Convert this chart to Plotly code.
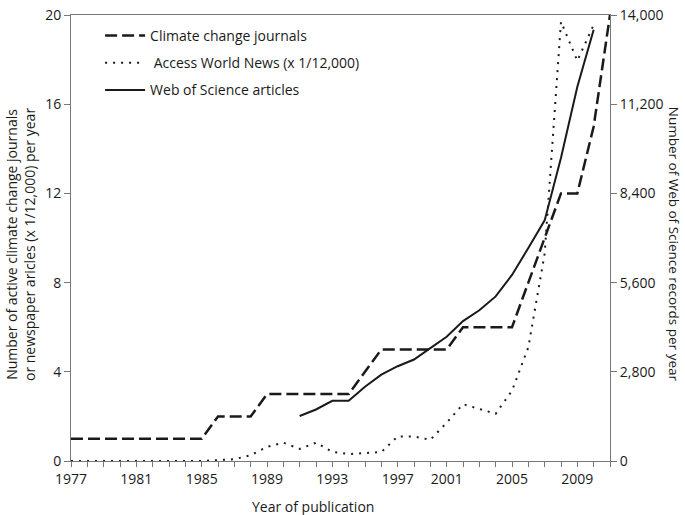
import plotly.graph_objects as go

# ---- data ----
journal_years = [1977, 1978, 1979, 1980, 1981, 1982, 1983, 1984, 1985, 1986, 1987, 1988,
                 1989, 1990, 1991, 1992, 1993, 1994, 1995, 1996, 1997, 1998, 1999, 2000,
                 2001, 2002, 2003, 2004, 2005, 2006, 2007, 2008, 2009, 2010]
journals = [1, 1, 1, 1, 1, 1, 1, 1, 1, 2, 2, 2,
            3, 3, 3, 3, 3, 3, 4, 5, 5, 5, 5, 5,
            6, 6, 6, 6, 8, 10, 12, 12, 15, 20]

news_years = [1977, 1978, 1979, 1980, 1981, 1982, 1983, 1984, 1985, 1986, 1987, 1988,
              1989, 1990, 1991, 1992, 1993, 1994, 1995, 1996, 1997, 1998, 1999, 2000,
              2001, 2002, 2003, 2004, 2005, 2006, 2007, 2008, 2009]
news_scaled = [0, 0, 0, 0, 0, 0, 0, 0, 0, 0.04, 0.08, 0.26,
               0.63, 0.82, 0.54, 0.82, 0.41, 0.31, 0.35, 0.40, 1.10, 1.10, 0.95, 1.72,
               2.55, 2.33, 2.12, 3.15, 5.1, 9.3, 19.7, 17.95, 19.56]

wos_years = [1991, 1992, 1993, 1994, 1995, 1996, 1997, 1998, 1999, 2000,
             2001, 2002, 2003, 2004, 2005, 2006, 2007, 2008, 2009]
wos_records = [1414, 1617, 1890, 1890, 2331, 2709, 2975, 3185, 3542, 3900,
               4390, 4730, 5166, 5840, 6685, 7553, 9520, 11746, 13538]

tick_years = list(range(1977, 2011))
labelled_positions = {1977: "1977", 1981: "1981", 1985: "1985", 1989: "1989",
                      1993: "1993", 1997: "1997", 2000: "2001", 2004: "2005", 2008: "2009"}
left_ticks = [0, 4, 8, 12, 16, 20]
right_ticks = [0, 2800, 5600, 8400, 11200, 14000]

FONT = "Open Sans"
FS = 14
INK = "#1a1a1a"
AXIS = "#777777"

fig = go.Figure()
fig.add_trace(go.Scatter(
    x=journal_years, y=journals, mode="lines", name="Climate change journals",
    legendgroup="a", line=dict(color=INK, width=2.5, dash="12px,5px")))
fig.add_trace(go.Scatter(
    x=news_years, y=news_scaled, mode="lines", name="\u00a0Access World News (x 1/12,000)",
    legendgroup="b", line=dict(color=INK, width=2, dash="2px,6px")))
fig.add_trace(go.Scatter(
    x=wos_years, y=wos_records, mode="lines", name="Web of Science articles",
    legendgroup="c", yaxis="y2", line=dict(color=INK, width=2)))

fig.update_layout(
    width=685, height=515,
    margin=dict(l=71, r=75, t=5, b=54),
    paper_bgcolor="white", plot_bgcolor="white",
    font=dict(family=FONT, size=FS, color=INK),
    showlegend=True,
    legend=dict(x=0.054, y=0.989, xanchor="left", yanchor="top",
                bgcolor="rgba(0,0,0,0)", tracegroupgap=6, itemwidth=40,
                font=dict(family=FONT, size=FS, color=INK)),
    xaxis=dict(range=[1977, 2010], tickvals=tick_years,
               ticktext=[labelled_positions.get(y, "") for y in tick_years],
               ticks="outside", ticklen=5, tickcolor=AXIS, tickwidth=1,
               showline=True, linecolor=AXIS, linewidth=1, mirror=True,
               showgrid=False, zeroline=False, ticklabeloverflow="allow",
               tickfont=dict(family=FONT, size=FS, color=INK)),
    yaxis=dict(range=[0, 20], tickvals=left_ticks,
               ticks="outside", ticklen=6, tickcolor=AXIS, tickwidth=1,
               showline=True, linecolor=AXIS, linewidth=1,
               showgrid=False, zeroline=False, ticklabeloverflow="allow",
               tickfont=dict(family=FONT, size=FS, color=INK)),
    yaxis2=dict(range=[0, 14000], tickvals=right_ticks, tickformat=",",
                overlaying="y", side="right",
                ticks="outside", ticklen=6, tickcolor=AXIS, tickwidth=1,
                showline=True, linecolor=AXIS, linewidth=1,
                showgrid=False, zeroline=False, ticklabeloverflow="allow",
                tickfont=dict(family=FONT, size=FS, color=INK)),
    annotations=[
        dict(text="Number of active climate change journals<br>or newspaper aricles (x 1/12,000) per year",
             xref="paper", yref="paper", x=-0.094, y=0.485, xanchor="center", yanchor="middle",
             textangle=-90, showarrow=False, font=dict(family=FONT, size=FS, color=INK)),
        dict(text="Number of Web of Science records per year",
             xref="paper", yref="paper", x=1.1187, y=0.485, xanchor="center", yanchor="middle",
             textangle=90, showarrow=False, font=dict(family=FONT, size=13.5, color=INK)),
        dict(text="Year of publication",
             xref="paper", yref="paper", x=0.449, y=-0.101, xanchor="center", yanchor="middle",
             showarrow=False, font=dict(family=FONT, size=FS, color=INK)),
    ],
)

fig.write_html("out.html", config={"displayModeBar": False},
               post_script="document.body.style.margin='0';")
